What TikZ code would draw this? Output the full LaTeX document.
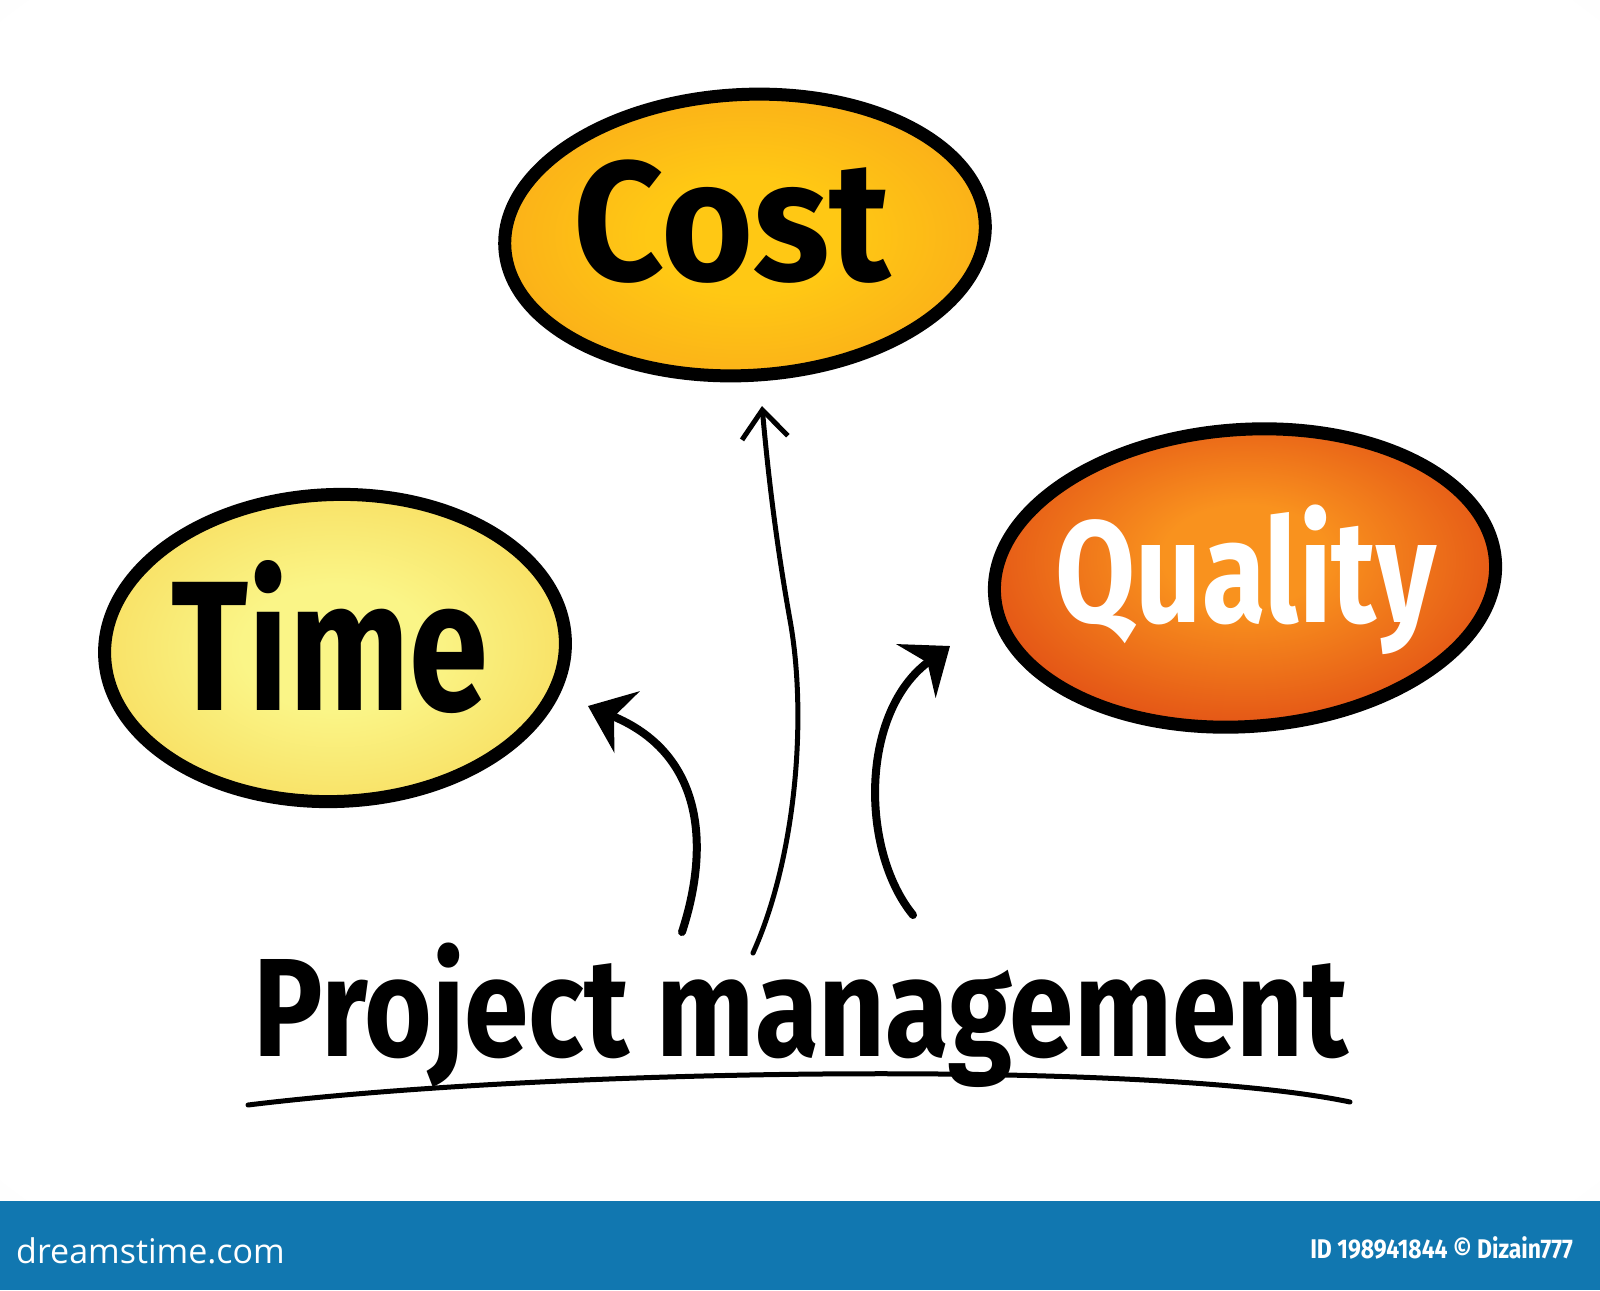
\documentclass[tikz,border=0pt]{standalone}
\usepackage{fontspec}
\usepackage{graphicx}
\setmainfont{Fira Sans}
\newfontfamily\hand{Fira Sans}
\newfontfamily\footfont{Open Sans}
\usetikzlibrary{shapes.geometric,arrows.meta}
\definecolor{costin}{RGB}{255,200,20}
\definecolor{costout}{RGB}{246,148,30}
\definecolor{timein}{RGB}{250,245,135}
\definecolor{timeout}{RGB}{247,200,60}
\definecolor{qin}{RGB}{249,146,30}
\definecolor{qout}{RGB}{212,40,16}
\definecolor{bgedge}{RGB}{230,230,230}
\definecolor{footblue}{RGB}{17,119,176}
\pgfdeclareradialshading{costsh}{\pgfpoint{0bp}{0bp}}{color(0bp)=(costin); color(10bp)=(costin); color(44bp)=(costout); color(72bp)=(costout)}
\pgfdeclareradialshading{timesh}{\pgfpoint{0bp}{0bp}}{color(0bp)=(timein); color(10bp)=(timein); color(44bp)=(timeout); color(72bp)=(timeout)}
\pgfdeclareradialshading{qsh}{\pgfpoint{0bp}{4bp}}{color(0bp)=(qin); color(8bp)=(qin); color(40bp)=(qout); color(72bp)=(qout)}
\pgfdeclareradialshading{bgsh}{\pgfpoint{0bp}{0bp}}{color(0bp)=(white); color(34bp)=(white); color(71bp)=(bgedge)}
\tikzset{
  bubble/.style={ellipse, draw=black, line width=13pt, inner sep=0pt},
  bigword/.style={anchor=base, inner sep=0pt},
  thinarrow/.style={line width=5pt, line cap=round, -{Straight Barb[length=28pt,width=46pt,line width=5pt]}},
  fatarrow/.style={line width=8pt, line cap=round, -{Stealth[length=42pt,width=66pt,inset=14pt]}},
}
\begin{document}
\begin{tikzpicture}[x=1pt,y=-1pt]
\useasboundingbox (0,0) rectangle (1600,1290);
% background
\shade[shading=bgsh] (0,0) rectangle (1600,1201);
\fill[footblue] (0,1201) rectangle (1600,1290);

% bubbles
\node[bubble, shading=costsh, rotate=3, minimum width=481pt, minimum height=281pt] (cost) at (745,235) {};
\node[bubble, shading=timesh, rotate=2, minimum width=461pt, minimum height=307pt] (time) at (335,648) {};
\node[bubble, shading=qsh, rotate=4, minimum width=502pt, minimum height=297pt] (quality) at (1245,578) {};

% words
\node[bigword, font=\hand\bfseries\fontsize{170}{170}\selectfont] (costtext) at (732,280) {\scalebox{0.93}[1]{Cost}};
\node[bigword, font=\hand\bfseries\fontsize{185}{185}\selectfont] (timetext) at (330,710) {\scalebox{0.77}[1]{Time}};
\node[bigword, text=white, font=\hand\bfseries\fontsize{145}{145}\selectfont] (qualitytext) at (1246,622) {\scalebox{0.8}[1]{Quality}};
\node[bigword, font=\hand\bfseries\fontsize{140}{140}\selectfont] (pm) at (801,1056) {\scalebox{0.83}[1]{Project management}};

% underline
\coordinate (ulA) at (248,1105);
\coordinate (ulB) at (1350,1102);
\draw[line width=5pt, line cap=round] (ulA) .. controls (550,1068) and (1150,1060) .. (ulB);

% arrows
\coordinate (mTail) at (753,953);
\coordinate (mMid) at (790,620);
\coordinate (mHead) at (762,406);
\draw[thinarrow] (mTail) .. controls (795,860) and (808,720) .. (mMid) .. controls (773,525) and (766,450) .. (mHead);

\coordinate (lTail) at (682,932);
\coordinate (lHead) at (588,706);
\draw[fatarrow] (lTail) .. controls (712,840) and (700,752) .. (lHead);

\coordinate (rTail) at (913,915);
\coordinate (rHead) at (950,646);
\draw[fatarrow] (rTail) .. controls (860,850) and (860,712) .. (rHead);

% footer
\node[anchor=west, text=white, inner sep=0pt, font=\footfont\fontsize{34}{34}\selectfont] (brand) at (16,1251) {dreamstime.com};
\node[anchor=east, text=white, inner sep=0pt, font=\hand\bfseries\fontsize{27}{27}\selectfont] (credit) at (1573,1248) {\scalebox{0.85}[1]{ID 198941844 © Dizain777}};
\end{tikzpicture}
\end{document}
